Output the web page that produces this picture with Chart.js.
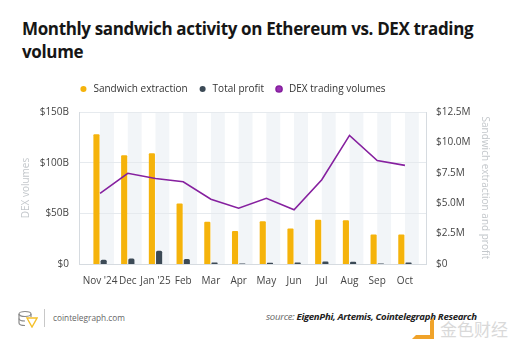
<!DOCTYPE html>
<html>
<head>
<meta charset="utf-8">
<script src="https://cdn.jsdelivr.net/npm/chart.js@4"></script>
<style>
  html, body { margin: 0; padding: 0; background: #fff; }
  body { width: 512px; height: 345px; overflow: hidden; position: relative; font-family: "Open Sans", sans-serif; }
  #title { position: absolute; left: 22px; top: 18px; width: 488px; font-size: 17px; font-weight: 700; line-height: 22.5px; letter-spacing: -0.35px; color: #161616; }
  #wrap { position: absolute; left: -38px; top: 74px; width: 540px; height: 228px; }
  #logo { position: absolute; left: 18px; top: 310px; }
  #sep { position: absolute; left: 44px; top: 309px; width: 1px; height: 18px; background: #c8c8c8; }
  #site { position: absolute; left: 53px; top: 312px; font-size: 8.3px; color: #666; white-space: nowrap; }
  #source { position: absolute; left: 266px; top: 310px; font-size: 9.6px; letter-spacing: -0.3px; font-style: italic; color: #666; white-space: nowrap; }
  #source b { color: #222; }
  #mark { position: absolute; left: 412px; top: 316px; font-family: "Noto Sans CJK SC", sans-serif; font-size: 17px; color: #d9d9d9; white-space: nowrap; }
  #mark span { display: inline-block; width: 14px; height: 14px; border: 4px solid #f0a32a; border-top-color: transparent; border-left-color: transparent; margin-right: 6px; vertical-align: -3px; }
</style>
</head>
<body>
<div id="title">Monthly sandwich activity on Ethereum vs. DEX trading volume</div>
<div id="wrap"><canvas id="chart"></canvas></div>
<svg id="logo" width="20" height="18" viewBox="0 0 20 18">
  <ellipse cx="7" cy="4" rx="6" ry="2.5" fill="none" stroke="#8a8a8a" stroke-width="1.2"/>
  <path d="M1 4v9c0 1.4 2.7 2.5 6 2.5" fill="none" stroke="#8a8a8a" stroke-width="1.2"/>
  <path d="M1 8.5c0 1.4 2.7 2.5 6 2.5M13 4v3" fill="none" stroke="#8a8a8a" stroke-width="1.2"/>
  <path d="M9 8h10l-5 9z" fill="none" stroke="#f5c02a" stroke-width="1.4"/>
</svg>
<div id="sep"></div>
<div id="site">cointelegraph.com</div>
<div id="source">source: <b>EigenPhi, Artemis, Cointelegraph Research</b></div>
<div id="mark"><span></span>金色财经</div>
<script>
// values
const months = ["Nov '24", "Dec", "Jan '25", "Feb", "Mar", "Apr", "May", "Jun", "Jul", "Aug", "Sep", "Oct"];
const sandwichExtraction = [10.66, 8.94, 9.11, 4.98, 3.48, 2.72, 3.52, 2.91, 3.64, 3.59, 2.42, 2.42]; // $M
const totalProfit = [0.34, 0.45, 1.08, 0.42, 0.12, 0.04, 0.10, 0.12, 0.20, 0.18, 0.04, 0.12];        // $M
const dexVolumes = [69.7, 89.5, 84.3, 81.1, 63.9, 55.1, 64.8, 53.5, 83.1, 126.9, 102.1, 97.3];       // $B
const volumeTicks = [0, 50, 100, 150];            // $B
const sandwichTicks = [0, 2.5, 5, 7.5, 10, 12.5]; // $M

const tickFont = { family: "Open Sans", size: 10 };
const titleFont = { family: "Open Sans", size: 10 };

// light stripes behind the right half of every month
const stripes = {
  id: 'stripes',
  beforeDraw(chart) {
    const { ctx, chartArea, scales } = chart;
    ctx.save();
    ctx.fillStyle = '#f2f5f8';
    months.forEach((m, i) => {
      const x0 = scales.x.getPixelForValue(i);
      const x1 = scales.x.getPixelForValue(i + 0.5);
      ctx.fillRect(x0, chartArea.top, x1 - x0, chartArea.bottom - chartArea.top);
    });
    ctx.restore();
  }
};

// a bit more room under the legend
const legendGap = {
  id: 'legendGap',
  afterInit(chart) {
    const fit = chart.legend.fit;
    chart.legend.fit = function () {
      fit.call(this);
      this.height += 8;
    };
  }
};

new Chart(document.getElementById('chart'), {
  type: 'bar',
  data: {
    datasets: [
      {
        label: 'Sandwich extraction',
        data: sandwichExtraction.map((v, i) => ({ x: i, y: v })),
        backgroundColor: '#f5b30b',
        borderRadius: 1,
        yAxisID: 'yRight',
        order: 1
      },
      {
        label: 'Total profit',
        data: totalProfit.map((v, i) => ({ x: i, y: v })),
        backgroundColor: '#3c4a56',
        borderRadius: 1.5,
        yAxisID: 'yRight',
        order: 1
      },
      {
        type: 'line',
        label: 'DEX trading volumes',
        data: dexVolumes.map((v, i) => ({ x: i, y: v })),
        borderColor: '#86209f',
        backgroundColor: '#9b30b5',
        borderWidth: 1.6,
        pointRadius: 0,
        tension: 0,
        yAxisID: 'yLeft',
        order: 0
      }
    ]
  },
  options: {
    responsive: true,
    maintainAspectRatio: false,
    animation: false,
    categoryPercentage: 0.52,
    barPercentage: 0.85,
    layout: { padding: { top: 0, left: 11, right: 11, bottom: 0 } },
    plugins: {
      tooltip: { enabled: false },
      legend: {
        position: 'top',
        labels: {
          usePointStyle: true,
          pointStyle: 'circle',
          boxWidth: 10,
          boxHeight: 4.3,
          padding: 10,
          color: '#333',
          font: { family: "Open Sans", size: 10 },
          sort: (a, b) => a.datasetIndex - b.datasetIndex
        }
      }
    },
    scales: {
      x: {
        type: 'linear',
        offset: false,
        min: -0.76,
        max: 11.76,
        afterBuildTicks(axis) { axis.ticks = months.map((m, i) => ({ value: i })); },
        afterFit(axis) { axis.height = 38; },
        grid: { display: false, drawTicks: false, offset: false },
        border: { color: '#d6dbe0' },
        ticks: {
          color: '#444',
          font: tickFont,
          padding: 11,
          maxRotation: 0,
          autoSkip: false,
          callback: (v) => months[v]
        }
      },
      yLeft: {
        position: 'left',
        min: 0,
        max: 150,
        afterBuildTicks(axis) { axis.ticks = volumeTicks.map(v => ({ value: v })); },
        afterFit(axis) { axis.width = 106; },
        grid: { color: '#e6eaee', drawTicks: false },
        border: { color: '#d6dbe0' },
        ticks: {
          color: '#444',
          font: tickFont,
          padding: 10,
          callback: (v) => v === 0 ? '$0' : '$' + v + 'B'
        },
        title: { display: true, text: 'DEX volumes', color: '#c3c7cb', font: titleFont, padding: { top: 47, bottom: 0 } }
      },
      yRight: {
        position: 'right',
        min: 0,
        max: 12.5,
        afterBuildTicks(axis) { axis.ticks = sandwichTicks.map(v => ({ value: v })); },
        afterFit(axis) { axis.width = 65; },
        grid: { display: false, drawTicks: false },
        border: { color: '#d6dbe0' },
        ticks: {
          color: '#444',
          font: tickFont,
          padding: 10,
          callback: (v) => v === 0 ? '$0' : '$' + v.toFixed(1) + 'M'
        },
        title: { display: true, text: 'Sandwich extraction and profit', color: '#c3c7cb', font: titleFont, padding: { top: 0, bottom: 0 } }
      }
    }
  },
  plugins: [stripes, legendGap]
});
</script>
</body>
</html>
